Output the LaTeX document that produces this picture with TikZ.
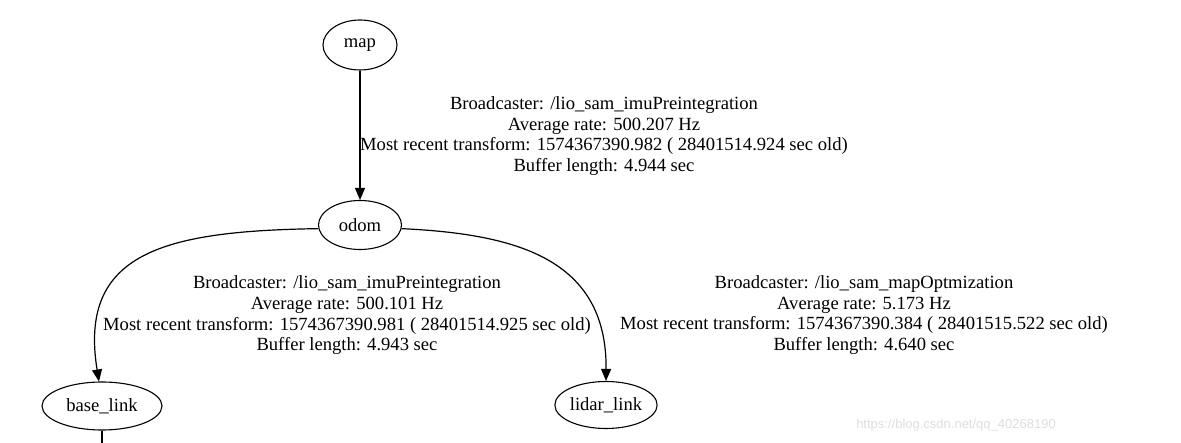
\documentclass[tikz,border=0pt]{standalone}
\usepackage{fontspec}
\setmainfont{Liberation Serif}
\newfontfamily\wmfont{Liberation Sans}
\usetikzlibrary{arrows.meta,shapes.geometric}
\tikzset{
  frame/.style={ellipse, draw, line width=1.1pt, inner sep=0pt, font=\fontsize{18.6}{20.7}\selectfont},
  lbl/.style={align=center, inner sep=0pt, font=\fontsize{18.6}{20.7}\selectfont},
  tfedge/.style={line width=1.2pt, -{Triangle[length=12pt,width=10pt]}},
}
\begin{document}
\begin{tikzpicture}[x=1pt,y=-1pt]
\useasboundingbox (0,0) rectangle (1181,443);
\node[frame, minimum width=74pt, minimum height=50pt] (map) at (360,45) {map};
\node[frame, minimum width=83pt, minimum height=49pt] (odom) at (360,225) {odom};
\node[frame, minimum width=120pt, minimum height=48pt] (base) at (102,406) {base\_link};
\node[frame, minimum width=99pt, minimum height=47pt] (lidar) at (606,405) {lidar\_link};
\coordinate (blout) at (102,445);

\draw[tfedge] (map) -- (odom);
\draw[tfedge] (odom.185) .. controls (165,231) and (78,252) .. (base.97);
\draw[tfedge] (odom.355) .. controls (515,234) and (607,258) .. (lidar.90);
\draw[line width=1.2pt] (base) -- (blout);

\node[lbl] (l1) at (604,136) {Broadcaster: /lio\_sam\_imuPreintegration\\Average rate: 500.207 Hz\\Most recent transform: 1574367390.982 ( 28401514.924 sec old)\\Buffer length: 4.944 sec};
\node[lbl] (l2) at (347,315.5) {Broadcaster: /lio\_sam\_imuPreintegration\\Average rate: 500.101 Hz\\Most recent transform: 1574367390.981 ( 28401514.925 sec old)\\Buffer length: 4.943 sec};
\node[lbl] (l3) at (864,315) {Broadcaster: /lio\_sam\_mapOptmization\\Average rate: 5.173 Hz\\Most recent transform: 1574367390.384 ( 28401515.522 sec old)\\Buffer length: 4.640 sec};
\node[inner sep=0pt, text=black!13, font=\wmfont\fontsize{13}{15}\selectfont] (wm) at (956,425) {https://blog.csdn.net/qq\_40268190};
\end{tikzpicture}
\end{document}
